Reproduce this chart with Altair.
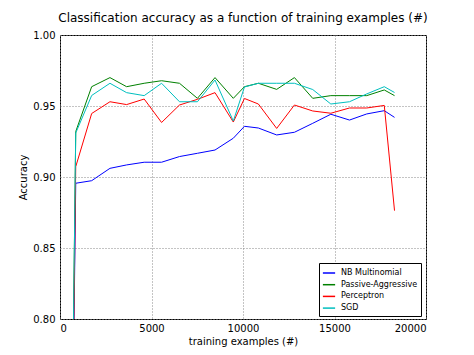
import altair as alt
import pandas as pd

n_train = [0, 860, 1730, 2730, 3640, 4600, 5550, 6530, 7510, 8470, 9470,
           10080, 10840, 11840, 12810, 13810, 14800, 15820, 16760, 17720, 18280]
nb_multinomial = [0, 0.8956, 0.8974, 0.9061, 0.9085, 0.9104, 0.9104, 0.9144, 0.9167, 0.9190, 0.9273,
                  0.9357, 0.9345, 0.9296, 0.9315, 0.9378, 0.9442, 0.9401, 0.9444, 0.9467, 0.9420]
passive_aggressive = [0, 0.932, 0.9636, 0.970, 0.9636, 0.966, 0.9678, 0.966, 0.9554, 0.970, 0.9554,
                      0.9636, 0.966, 0.9617, 0.970, 0.9554, 0.9573, 0.9573, 0.9573, 0.9613, 0.9573]
perceptron = [0, 0.9073, 0.9447, 0.953, 0.951, 0.9549, 0.9384, 0.9507, 0.9547, 0.9594, 0.9387,
              0.9553, 0.9514, 0.9342, 0.9507, 0.9465, 0.9449, 0.9486, 0.9486, 0.9504, 0.8763]
sgd = [0, 0.931, 0.9574, 0.966, 0.9594, 0.9573, 0.966, 0.953, 0.953, 0.9683, 0.9394,
       0.9634, 0.966, 0.966, 0.966, 0.9616, 0.9514, 0.953, 0.9585, 0.9636, 0.9595]

series_names = ["NB Multinomial", "Passive-Aggressive", "Perceptron", "SGD"]
series_colors = ["#0000ff", "#008000", "#ff0000", "#00bfbf"]
series_values = [nb_multinomial, passive_aggressive, perceptron, sgd]

x_ticks = [0, 5000, 10000, 15000, 20000]
y_ticks = [0.80, 0.85, 0.90, 0.95, 1.00]

rows = []
for name, vals in zip(series_names, series_values):
    for i, (x, y) in enumerate(zip(n_train, vals)):
        rows.append({"n": x, "acc": y, "clf": name, "order": i})
df = pd.DataFrame(rows)

FONT = "DejaVu Sans"

chart = alt.Chart(df).mark_line(clip=True, strokeWidth=1).encode(
    x=alt.X("n:Q", title="training examples (#)",
            scale=alt.Scale(domain=[0, 20000], nice=False),
            axis=alt.Axis(values=x_ticks, format="d", labelPadding=4, titlePadding=3)),
    y=alt.Y("acc:Q", title="Accuracy",
            scale=alt.Scale(domain=[0.8, 1.0], nice=False, zero=False),
            axis=alt.Axis(values=y_ticks, format=".2f", labelPadding=5, titlePadding=4)),
    color=alt.Color("clf:N", scale=alt.Scale(domain=series_names, range=series_colors),
                    legend=alt.Legend(title=None)),
    order="order:Q",
).properties(
    width=366, height=284,
    title=alt.TitleParams("Classification accuracy as a function of training examples (#)",
                          fontSize=12, font=FONT, fontWeight="normal", color="black",
                          anchor="middle", offset=5),
    autosize=alt.AutoSizeParams(type="none"),
    padding={"left": 60, "top": 35, "right": 48, "bottom": 36},
).configure_view(
    stroke="black", strokeWidth=1
).configure_axis(
    labelFont=FONT, titleFont=FONT, labelFontSize=10, titleFontSize=10,
    labelColor="black", titleColor="black", titleFontWeight="normal",
    ticks=False, tickSize=0, domain=False,
    grid=True, gridColor="#888888", gridDash=[1, 2], gridWidth=1,
).configure_legend(
    orient="none", legendX=259, legendY=228,
    strokeColor="black", fillColor="white", padding=3, rowPadding=0.7,
    labelFont=FONT, labelFontSize=8, labelColor="black", labelOffset=5,
    symbolType="stroke", symbolSize=150, symbolStrokeWidth=1.5, cornerRadius=0,
)

chart.save("out.html", embed_options={"renderer": "svg", "actions": False})
